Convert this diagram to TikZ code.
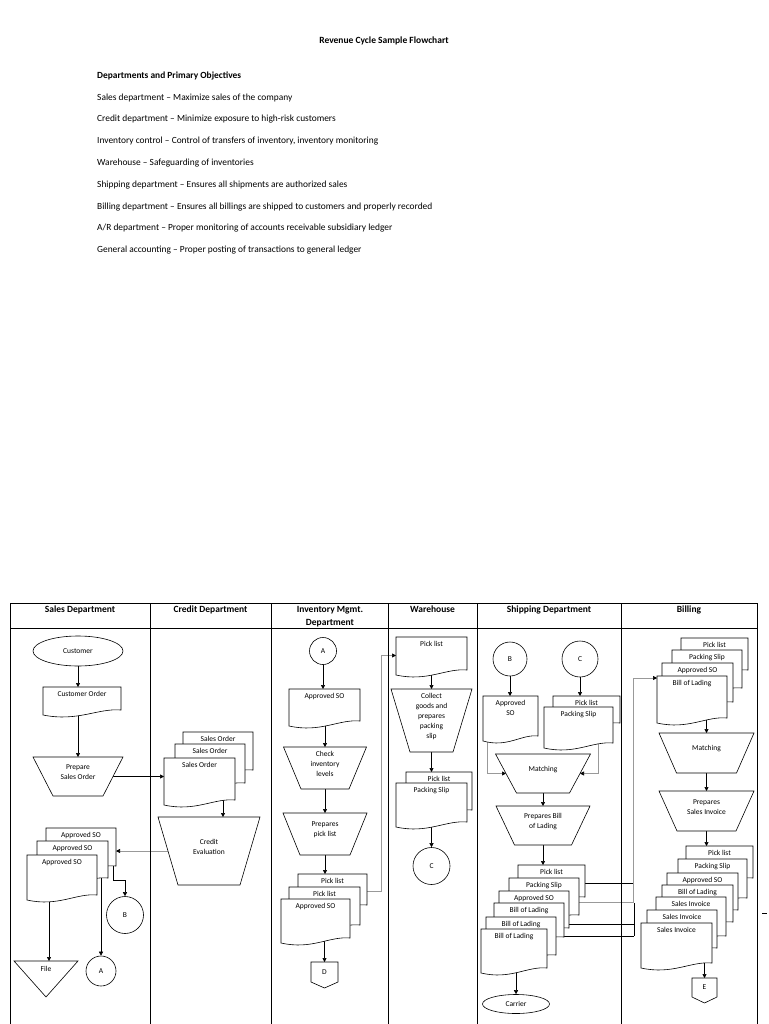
\documentclass[tikz,border=0pt]{standalone}
\usepackage{fontspec}
\setmainfont{Carlito}
\usetikzlibrary{arrows.meta,shapes.geometric,backgrounds}

\tikzset{
  shp/.style={draw=black, fill=white, line width=0.6pt},
  box/.style={draw=none, inner sep=0pt, outer sep=0pt},
  lbl/.style={font=\fontsize{7.5}{10}\selectfont, align=center, inner sep=0pt},
  conn/.style={circle, shp, inner sep=0pt, font=\fontsize{7.5}{10}\selectfont},
  term/.style={ellipse, shp, inner sep=0pt, font=\fontsize{7.5}{10}\selectfont},
  hdr/.style={font=\fontsize{9.5}{13}\bfseries, anchor=base, inner sep=0pt},
  txt/.style={font=\fontsize{9.4}{11}\selectfont, anchor=west, inner sep=0pt},
  arr/.style={-{Triangle[length=4pt,width=4pt]}, line width=0.5pt},
  garr/.style={-{Triangle[length=4pt,width=4pt,color=black]}, draw=black!40, line width=0.6pt},
  link/.style={line width=0.6pt},
  lane/.style={draw=black, line width=0.7pt},
}

% document: name, x1, x2, top, bottom (right edge), label
\newcommand\docu[6]{%
  \draw[shp] (#2,#4) -- (#3,#4) -- (#3,#5)
    .. controls ({#3-0.3*(#3-#2)},{#5-2}) and ({#2+0.45*(#3-#2)},{#5+12}) .. (#2,{#5+5}) -- cycle;
  \node[box, minimum width={#3-#2}, minimum height={#5-#4+4}] (#1) at ({(#2+#3)/2},{(#4+#5+4)/2}) {};
  \node[lbl, anchor=north] (#1-t) at ({(#2+#3)/2},{#4+4}) {#6};
}
% manual operation: name, x centre, top, bottom, half top, half bottom, label
\newcommand\manop[7]{%
  \draw[shp] ({#2-#5},#3) -- ({#2+#5},#3) -- ({#2+#6},#4) -- ({#2-#6},#4) -- cycle;
  \node[box, minimum width={2*#5}, minimum height={#4-#3}] (#1) at (#2,{(#3+#4)/2}) {};
  \node[lbl] (#1-t) at (#2,{(#3+#4)/2-4}) {#7};
  \coordinate (#1-w) at ({#2-(#5+#6)/2},{(#3+#4)/2});
  \coordinate (#1-e) at ({#2+(#5+#6)/2},{(#3+#4)/2});
}
% off-page connector: name, x1, x2, top, side, tip, label
\newcommand\offpg[7]{%
  \draw[shp] (#2,#4) -- (#3,#4) -- (#3,#5) -- ({(#2+#3)/2},#6) -- (#2,#5) -- cycle;
  \node[box, minimum width={#3-#2}, minimum height={#6-#4}] (#1) at ({(#2+#3)/2},{(#4+#6)/2}) {};
  \node[lbl] (#1-t) at ({(#2+#3)/2},{(#4+#5)/2}) {#7};
}

\begin{document}
\begin{tikzpicture}[x=1pt,y=-1pt]
\useasboundingbox (0,0) rectangle (768,1024);

% title and objectives
\node[font=\fontsize{9.5}{11}\bfseries, inner sep=0pt] (title) at (384,41) {Revenue Cycle Sample Flowchart};
\node[txt, font=\fontsize{9.4}{11}\bfseries] (obj0) at (97,76) {Departments and Primary Objectives};
\node[txt] (obj1) at (97,98) {Sales department -- Maximize sales of the company};
\node[txt] (obj2) at (97,119) {Credit department -- Minimize exposure to high-risk customers};
\node[txt] (obj3) at (97,141) {Inventory control -- Control of transfers of inventory, inventory monitoring};
\node[txt] (obj4) at (97,163) {Warehouse -- Safeguarding of inventories};
\node[txt] (obj5) at (97,185) {Shipping department -- Ensures all shipments are authorized sales};
\node[txt] (obj6) at (97,207) {Billing department -- Ensures all billings are shipped to customers and properly recorded};
\node[txt] (obj7) at (97,228) {A/R department -- Proper monitoring of accounts receivable subsidiary ledger};
\node[txt] (obj8) at (97,250) {General accounting -- Proper posting of transactions to general ledger};

% lanes
\draw[lane] (10,1024) -- (10,603) -- (757,603) -- (757,1024);
\draw[lane] (10,628) -- (757,628);
\foreach \x in {150,271,388,477,621} \draw[lane] (\x,603) -- (\x,1024);
\node[hdr] (h-sales) at (80,612.5) {Sales Department};
\node[hdr] (h-credit) at (210.5,612.5) {Credit Department};
\node[hdr] (h-inv) at (330,612.5) {Inventory Mgmt.};
\node[hdr] (h-inv2) at (330,625.5) {Department};
\node[hdr] (h-wh) at (432.5,612.5) {Warehouse};
\node[hdr] (h-ship) at (549,612.5) {Shipping Department};
\node[hdr] (h-bill) at (689,612.5) {Billing};

% sales department
\node[term, minimum width=90, minimum height=30] (cust) at (78,651) {Customer};
\docu{custord}{43}{121}{687}{710}{Customer Order}
\manop{prepso}{78}{757}{796}{45}{25}{Prepare\\Sales Order}
\docu{apso3}{46}{116}{828}{866}{Approved SO}
\docu{apso2}{37}{108}{841}{878}{Approved SO}
\docu{apso1}{27}{97}{855}{895}{Approved SO}
\node[conn, minimum size=37] (b1) at (125,915) {B};
\node[conn, minimum size=30] (a1) at (101,971) {A};
\draw[shp] (14,961) -- (78,961) -- (46,997) -- cycle;
\node[box, minimum width=64, minimum height=36] (file) at (46,979) {};
\node[lbl] (file-t) at (46,969) {File};

% credit department
\docu{so3}{183}{253}{732}{770}{Sales Order}
\docu{so2}{175}{245}{744}{783}{Sales Order}
\docu{so1}{164}{235}{758}{800}{Sales Order}
\manop{crediteval}{209}{817}{885}{51}{31}{Credit\\Evaluation}

% inventory mgmt.
\node[conn, minimum size=27] (a2) at (323,651) {A};
\docu{apinv}{289}{360}{689}{721}{Approved SO}
\manop{checkinv}{325}{747}{789}{41.5}{24}{Check\\inventory\\levels}
\manop{preppick}{325}{813}{855}{42}{25}{Prepares\\pick list}
\docu{pl2}{298}{367}{874}{905}{Pick list}
\docu{pl1}{289}{360}{887}{925}{Pick list}
\docu{apinv2}{281}{350}{899}{938}{Approved SO}
\offpg{d1}{311}{338}{962}{982}{988}{D}

% warehouse
\docu{plw}{396}{467}{637}{670}{Pick list}
\manop{collect}{431.5}{689}{752}{40.5}{21.5}{Collect\\goods and\\prepares\\packing\\slip}
\docu{plw2}{406}{472}{772}{810}{Pick list}
\docu{psw}{396}{467}{783}{822}{Packing Slip}
\node[conn, minimum size=37] (c1) at (431.5,866) {C};

% shipping department
\node[conn, minimum size=34] (b2) at (510,659) {B};
\node[conn, minimum size=36] (c2) at (580,659) {C};
\docu{apship}{483}{538}{696}{736}{Approved\\SO}
\docu{plship}{553}{620}{696}{723}{Pick list}
\docu{psship}{544}{613}{707}{743}{Packing Slip}
\manop{match1}{543}{754}{793}{47.5}{26.5}{Matching}
\manop{prepbol}{543}{806}{845}{47}{28.5}{Prepares Bill\\of Lading}
\docu{s6}{518}{585}{865}{897}{Pick list}
\docu{s5}{509}{579}{878}{915}{Packing Slip}
\docu{s4}{499}{569}{891}{928}{Approved SO}
\docu{s3}{494}{564}{903}{937}{Bill of Lading}
\docu{s2}{486}{556}{917}{955}{Bill of Lading}
\docu{s1}{481}{547}{929}{968}{Bill of Lading}
\node[term, minimum width=67, minimum height=19] (carrier) at (516,1004) {Carrier};

% billing
\docu{bplt}{681}{748}{638}{670}{Pick list}
\docu{bpst}{672}{742}{650}{688}{Packing Slip}
\docu{bapt}{662}{733}{663}{702}{Approved SO}
\docu{bolb}{657}{727}{676}{718}{Bill of Lading}
\manop{match2}{706.5}{733}{773}{47.5}{30}{Matching}
\manop{prepsi}{706.5}{791}{831}{47.5}{29.5}{Prepares\\Sales Invoice}
\docu{bi7}{686}{753}{846}{878}{Pick list}
\docu{bi6}{678}{747}{859}{898}{Packing Slip}
\docu{bi5}{667}{738}{873}{910}{Approved SO}
\docu{bi4}{662}{733}{885}{922}{Bill of Lading}
\docu{bi3}{656}{726}{897}{936}{Sales Invoice}
\docu{bi2}{647}{717}{910}{948}{Sales Invoice}
\docu{bi1}{641}{712}{923}{963}{Sales Invoice}
\offpg{e1}{692}{717}{978}{997}{1003}{E}

\draw[link] (762,913) -- (767,913);

% connectors
\begin{pgfonlayer}{background}
\draw[arr] (cust.south) -- (cust.south |- custord.north);
\draw[arr] (prepso.north |- custord.center) -- (prepso.north);
\draw[arr] (prepso-e) -- (prepso-e -| so1.west);
\draw[arr] ([xshift=-12pt]so1.east) -- ([xshift=-12pt]so1.east |- crediteval.north);
\draw[garr] (crediteval-w) -- (crediteval-w -| apso3.east);
\coordinate (bj1) at (125,880);
\draw[arr] ([xshift=-3pt]apso3.east) |- (bj1) -- (b1.north);
\draw[arr] ([xshift=-7pt]apso2.east) -- (a1.north);
\draw[arr] ([xshift=-13pt]apso1.center) -- ([xshift=3pt]file.north);

\draw[arr] (a2.south) -- (a2.south |- apinv.north);
\draw[arr] (checkinv.north |- apinv.center) -- (checkinv.north);
\draw[arr] (checkinv.south) -- (preppick.north);
\draw[arr] (preppick.south) -- (preppick.south |- pl2.north);
\draw[garr] (pl2.east) -- ++(14,0) |- (plw.west);
\draw[arr] (d1.north |- apinv2.center) -- (d1.north);

\draw[arr] (collect.north |- plw.center) -- (collect.north);
\draw[arr] (collect.south) -- (collect.south |- plw2.north);
\draw[arr] (c1.north |- psw.center) -- (c1.north);

\draw[arr] (b2.south) -- (b2.south |- apship.north);
\draw[arr] (c2.south) -- (c2.south |- plship.north);
\draw[garr] ([xshift=4pt]apship.west) |- (match1-w);
\draw[garr] ([xshift=-15pt]psship.east) |- (match1-e);
\draw[arr] (match1.south) -- (prepbol.north);
\draw[arr] (prepbol.south) -- (prepbol.south |- s6.north);
\draw[arr] (carrier.north |- s1.center) -- (carrier.north);
\coordinate (bj) at (633,902);
\coordinate (bk0) at (634,903);
\coordinate (bk1) at (634,924);
\coordinate (bk2) at (634,936);
\draw[link] (s6.east) -- (s6.east -| bj);
\draw[garr] (s5.east |- bj) -- (bj) |- ([yshift=-2pt]bolb.north west);
\draw[link] (s4.east |- bk1) -- (bk1);
\draw[link] (s3.east |- bk2) -- (bk2);
\draw[link] (bk0) -- (bk2);

\draw[arr] (match2.north |- bolb.center) -- (match2.north);
\draw[arr] (match2.south) -- (prepsi.north);
\draw[arr] (prepsi.south) -- (prepsi.south |- bi7.north);
\draw[arr] (e1.north |- bi1.center) -- (e1.north);
\end{pgfonlayer}

\end{tikzpicture}
\end{document}
